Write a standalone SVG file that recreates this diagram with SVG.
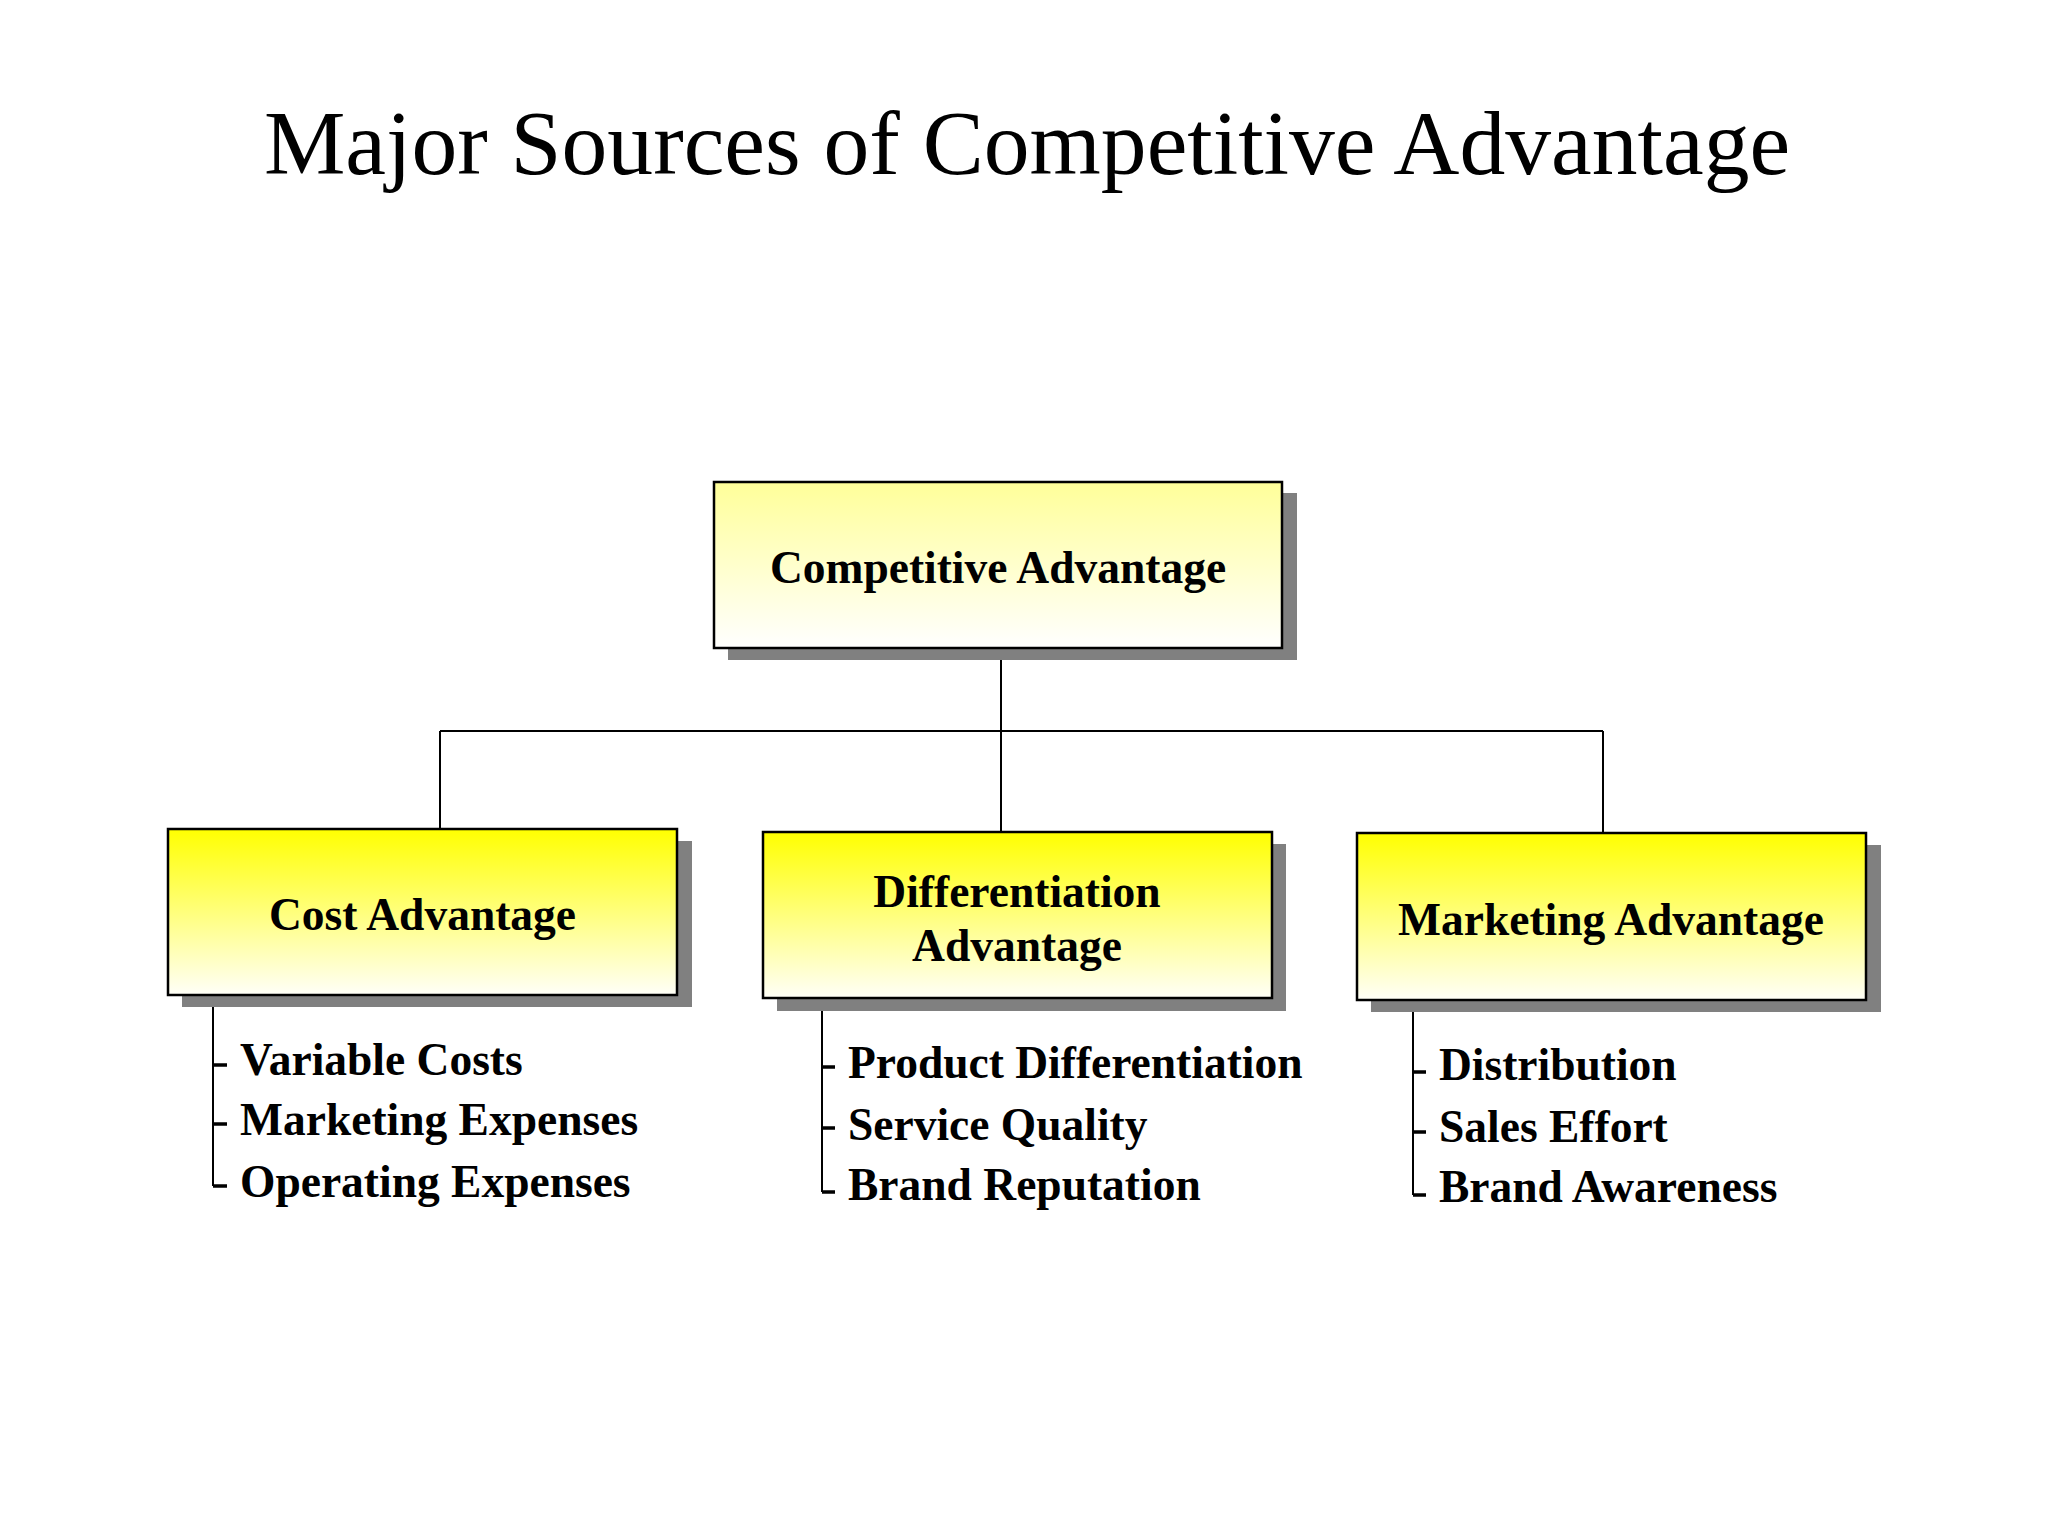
<svg xmlns="http://www.w3.org/2000/svg" width="2048" height="1536" viewBox="0 0 2048 1536">
<defs>
<linearGradient id="gTop" x1="0" y1="0" x2="0" y2="1">
<stop offset="0" stop-color="#FFFF99"/>
<stop offset="1" stop-color="#FFFFFF"/>
</linearGradient>
<linearGradient id="gSub" x1="0" y1="0" x2="0" y2="1">
<stop offset="0" stop-color="#FFFF00"/>
<stop offset="1" stop-color="#FFFFF8"/>
</linearGradient>
</defs>
<style>
.shadow{fill:#808080}
.box{stroke:#000;stroke-width:2.5}
.lbl{font-family:"Liberation Serif","Times New Roman",serif;font-weight:bold;font-size:45.5px;fill:#000;text-anchor:middle}
.item{font-family:"Liberation Serif","Times New Roman",serif;font-weight:bold;font-size:45.5px;fill:#000}
.conn{stroke:#000;stroke-width:2;fill:none}
.tick{stroke:#000;stroke-width:3.5;fill:none}
.title{font-family:"Liberation Serif","Times New Roman",serif;font-size:91.6px;fill:#000;text-anchor:middle}
</style>
<rect width="2048" height="1536" fill="#FFFFFF"/>
<text class="title" x="1027" y="174">Major Sources of Competitive Advantage</text>

<g id="connectors">
<path class="conn" d="M1001 648 V731 M440 731 H1603 M440 731 V829 M1001 731 V832 M1603 731 V833"/>
<path class="conn" d="M213 995 V1186 M822 998 V1192 M1413 1000 V1195"/>
<path class="tick" d="M213 1065 H227 M213 1124 H227 M213 1186 H227"/>
<path class="tick" d="M822 1067 H835 M822 1128 H835 M822 1192 H835"/>
<path class="tick" d="M1413 1072 H1426 M1413 1132 H1426 M1413 1195 H1426"/>
</g>

<g id="node-competitive">
<rect class="shadow" x="728" y="493" width="569" height="167"/>
<rect class="box" x="714" y="482" width="568" height="166" fill="url(#gTop)"/>
<text class="lbl" x="998" y="583">Competitive Advantage</text>
</g>

<g id="node-cost">
<rect class="shadow" x="182" y="841" width="510" height="166"/>
<rect class="box" x="168" y="829" width="509" height="166" fill="url(#gSub)"/>
<text class="lbl" x="422.5" y="930">Cost Advantage</text>
</g>

<g id="node-differentiation">
<rect class="shadow" x="777" y="844" width="509" height="167"/>
<rect class="box" x="763" y="832" width="509" height="166" fill="url(#gSub)"/>
<text class="lbl" x="1017" y="907">Differentiation</text>
<text class="lbl" x="1017" y="961">Advantage</text>
</g>

<g id="node-marketing">
<rect class="shadow" x="1371" y="845" width="510" height="167"/>
<rect class="box" x="1357" y="833" width="509" height="167" fill="url(#gSub)"/>
<text class="lbl" x="1611" y="935">Marketing Advantage</text>
</g>

<g id="list-cost">
<text class="item" x="240" y="1075">Variable Costs</text>
<text class="item" x="240" y="1135">Marketing Expenses</text>
<text class="item" x="240" y="1197">Operating Expenses</text>
</g>

<g id="list-differentiation">
<text class="item" x="848" y="1078">Product Differentiation</text>
<text class="item" x="848" y="1140">Service Quality</text>
<text class="item" x="848" y="1200">Brand Reputation</text>
</g>

<g id="list-marketing">
<text class="item" x="1439" y="1080">Distribution</text>
<text class="item" x="1439" y="1142">Sales Effort</text>
<text class="item" x="1439" y="1202">Brand Awareness</text>
</g>
</svg>
